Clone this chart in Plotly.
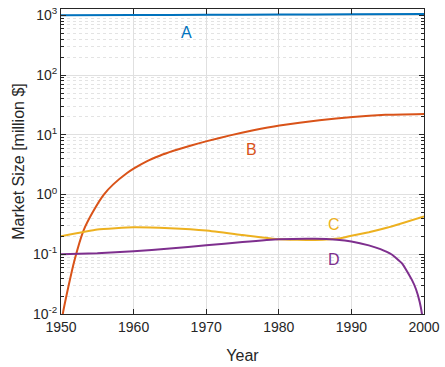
import plotly.graph_objects as go
import numpy as np

# ---- data ----
years_a = [1950, 1960, 1970, 1980, 1990, 2000]
market_a = [1010, 1015, 1022, 1030, 1042, 1058]

years_b = [1950.1, 1950.25, 1951.0, 1951.85, 1953.1, 1954.5, 1955.9, 1957.2, 1959.1, 1960.0,
           1961.8, 1963.6, 1965.5, 1967.8, 1970.1, 1973.3, 1976.5, 1980.1, 1985.6, 1990.2,
           1994.7, 2000]
market_b = [0.006, 0.01, 0.028, 0.079, 0.25, 0.54, 1.0, 1.48, 2.29, 2.71,
            3.6, 4.47, 5.4, 6.56, 7.85, 9.8, 11.9, 14.3, 17.6, 19.95,
            21.6, 22.4]

years_c = [1950, 1955, 1960, 1965, 1970, 1975, 1980, 1985, 1988.5, 1990, 1992.4, 1995, 2000]
market_c = [0.20, 0.26, 0.283, 0.272, 0.249, 0.21, 0.178, 0.173, 0.185, 0.205, 0.234, 0.28, 0.43]

years_d = [1950, 1955, 1960, 1965, 1970, 1975, 1980, 1985, 1988, 1990, 1992.4, 1994,
           1995.5, 1997, 1998.3, 1998.9, 1999.4, 1999.75, 2000]
market_d = [0.10, 0.104, 0.112, 0.125, 0.141, 0.16, 0.178, 0.182, 0.175, 0.164, 0.141, 0.122,
            0.1, 0.07, 0.038, 0.026, 0.016, 0.0095, 0.005]

series_names = ["A", "B", "C", "D"]
colors = ["#0072BD", "#D95319", "#EDB120", "#7E2F8E"]

x_ticks = [1950, 1960, 1970, 1980, 1990, 2000]
y_ticks = [0.01, 0.1, 1, 10, 100, 1000]
y_ticktext = ["10<sup>-2</sup>", "10<sup>-1</sup>", "10<sup>0</sup>",
              "10<sup>1</sup>", "10<sup>2</sup>", "10<sup>3</sup>"]

minor_y = [m * 10.0 ** e for e in range(-2, 3) for m in range(2, 10)]

fig = go.Figure()
for name, xs, ys, col in zip(series_names,
                             [years_a, years_b, years_c, years_d],
                             [market_a, market_b, market_c, market_d], colors):
    fig.add_trace(go.Scatter(x=xs, y=ys, mode="lines", name=name,
                             line=dict(color=col, width=2, shape="spline", smoothing=0.4),
                             showlegend=False, hoverinfo="skip"))

label_pos = {"A": (1967.35, 515), "B": (1976.2, 5.6), "C": (1987.65, 0.31), "D": (1987.65, 0.083)}
for name, col in zip(series_names, colors):
    lx, ly = label_pos[name]
    fig.add_annotation(x=lx, y=np.log10(ly), text=name, showarrow=False,
                       font=dict(color=col, size=16, family="Liberation Sans, Arial"))

fig.update_xaxes(range=[1950, 2000], tickvals=x_ticks, ticks="inside", ticklen=5,
                 tickcolor="#262626", showline=True, linecolor="#262626", linewidth=1,
                 mirror="ticks", showgrid=True, gridcolor="#e0e0e0", zeroline=False,
                 title=dict(text="Year", font=dict(size=16, color="#262626"), standoff=16),
                 tickfont=dict(size=14, color="#262626"))
fig.update_yaxes(type="log", range=[-2, 3.107], tickvals=y_ticks, ticktext=y_ticktext,
                 ticks="inside", ticklen=5, tickcolor="#262626", showline=True,
                 linecolor="#262626", linewidth=1, mirror="ticks", showgrid=True,
                 gridcolor="#e0e0e0", zeroline=False,
                 minor=dict(tickvals=minor_y, showgrid=True, gridcolor="#e3e3e3",
                            griddash="dot", ticks="inside", ticklen=3, tickcolor="#262626"),
                 title=dict(text="Market Size [million $]", font=dict(size=16, color="#262626"),
                            standoff=4),
                 tickfont=dict(size=14, color="#262626"))

fig.update_layout(width=445, height=367, margin=dict(l=61, r=20, t=5, b=53),
                  plot_bgcolor="white", paper_bgcolor="white",
                  font=dict(family="Liberation Sans, Arial, sans-serif", color="#262626"))

fig.write_html("out.html", config={"displayModeBar": False},
               post_script="document.body.style.margin='0';document.body.style.padding='0';")
